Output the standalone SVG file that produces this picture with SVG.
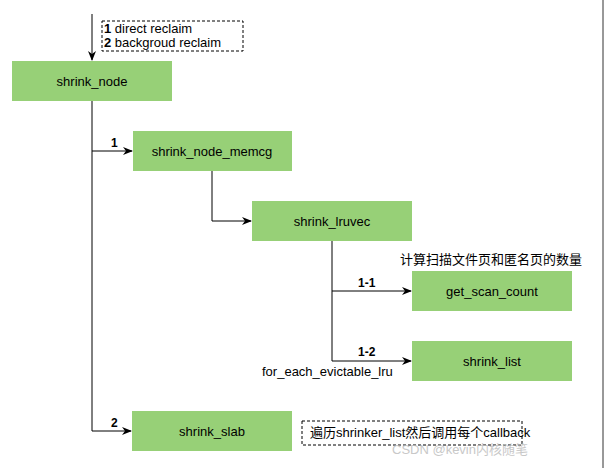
<svg xmlns="http://www.w3.org/2000/svg" width="605" height="468" viewBox="0 0 605 468">
<style>
text{font-family:"Liberation Sans","Noto Sans CJK SC",sans-serif;font-size:13px;fill:#000}
.n{fill:#97d077}
.c{text-anchor:middle}
.b{font-weight:bold;font-size:12px}
.l{stroke:#000;fill:none;stroke-width:1}
.d{stroke:#000;fill:#fff;stroke-dasharray:3 2}
</style>
<defs><marker id="a" markerWidth="10" markerHeight="8" refX="9" refY="4" orient="auto" markerUnits="userSpaceOnUse"><path d="M0,0L10,4L0,8L3,4z" fill="#000"/></marker></defs>
<rect width="605" height="468" fill="#fff"/>
<line x1="603" y1="0" x2="603" y2="468" stroke="#333"/>
<g id="connectors">
<path class="l" d="M92,14V60" marker-end="url(#a)"/>
<path class="l" d="M92,101V431H131" marker-end="url(#a)"/>
<path class="l" d="M92,151H132" marker-end="url(#a)"/>
<path class="l" d="M212,171V221H251" marker-end="url(#a)"/>
<path class="l" d="M332,241V361H411" marker-end="url(#a)"/>
<path class="l" d="M332,291H411" marker-end="url(#a)"/>
<text x="111" y="147" class="b">1</text>
<text x="111" y="427" class="b">2</text>
<text x="358" y="287" class="b">1-1</text>
<text x="358" y="356" class="b">1-2</text>
<text x="262" y="376" font-size="12">for_each_evictable_lru</text>
</g>
<g id="note1"><rect class="d" x="102" y="21" width="141" height="30"/>
<text x="104" y="33" font-size="11"><tspan font-weight="bold">1</tspan> direct reclaim</text>
<text x="104" y="47" font-size="11"><tspan font-weight="bold">2</tspan> backgroud reclaim</text></g>
<g id="shrink_node"><rect class="n" x="12" y="61" width="160" height="40"/><text class="c" x="92" y="86">shrink_node</text></g>
<g id="shrink_node_memcg"><rect class="n" x="133" y="131" width="159" height="40"/><text class="c" x="212" y="156">shrink_node_memcg</text></g>
<g id="shrink_lruvec"><rect class="n" x="252" y="201" width="160" height="40"/><text class="c" x="332" y="226">shrink_lruvec</text></g>
<g id="get_scan_count"><rect class="n" x="412" y="271" width="160" height="40"/><text class="c" x="492" y="296">get_scan_count</text>
<text class="c" x="491" y="264" font-size="11">计算扫描文件页和匿名页的数量</text></g>
<g id="shrink_list"><rect class="n" x="412" y="341" width="160" height="40"/><text class="c" x="492" y="366">shrink_list</text></g>
<g id="shrink_slab"><rect class="n" x="132" y="411" width="160" height="40"/><text class="c" x="212" y="436">shrink_slab</text></g>
<g id="note2"><rect class="d" x="302" y="421" width="220" height="24"/><text x="310" y="437" font-size="12">遍历shrinker_list然后调用每个callback</text></g>
<text x="392" y="454" font-size="16" fill="#bbb" style="fill:#bbb;opacity:0.8">CSDN @kevin内核随笔</text>
</svg>
